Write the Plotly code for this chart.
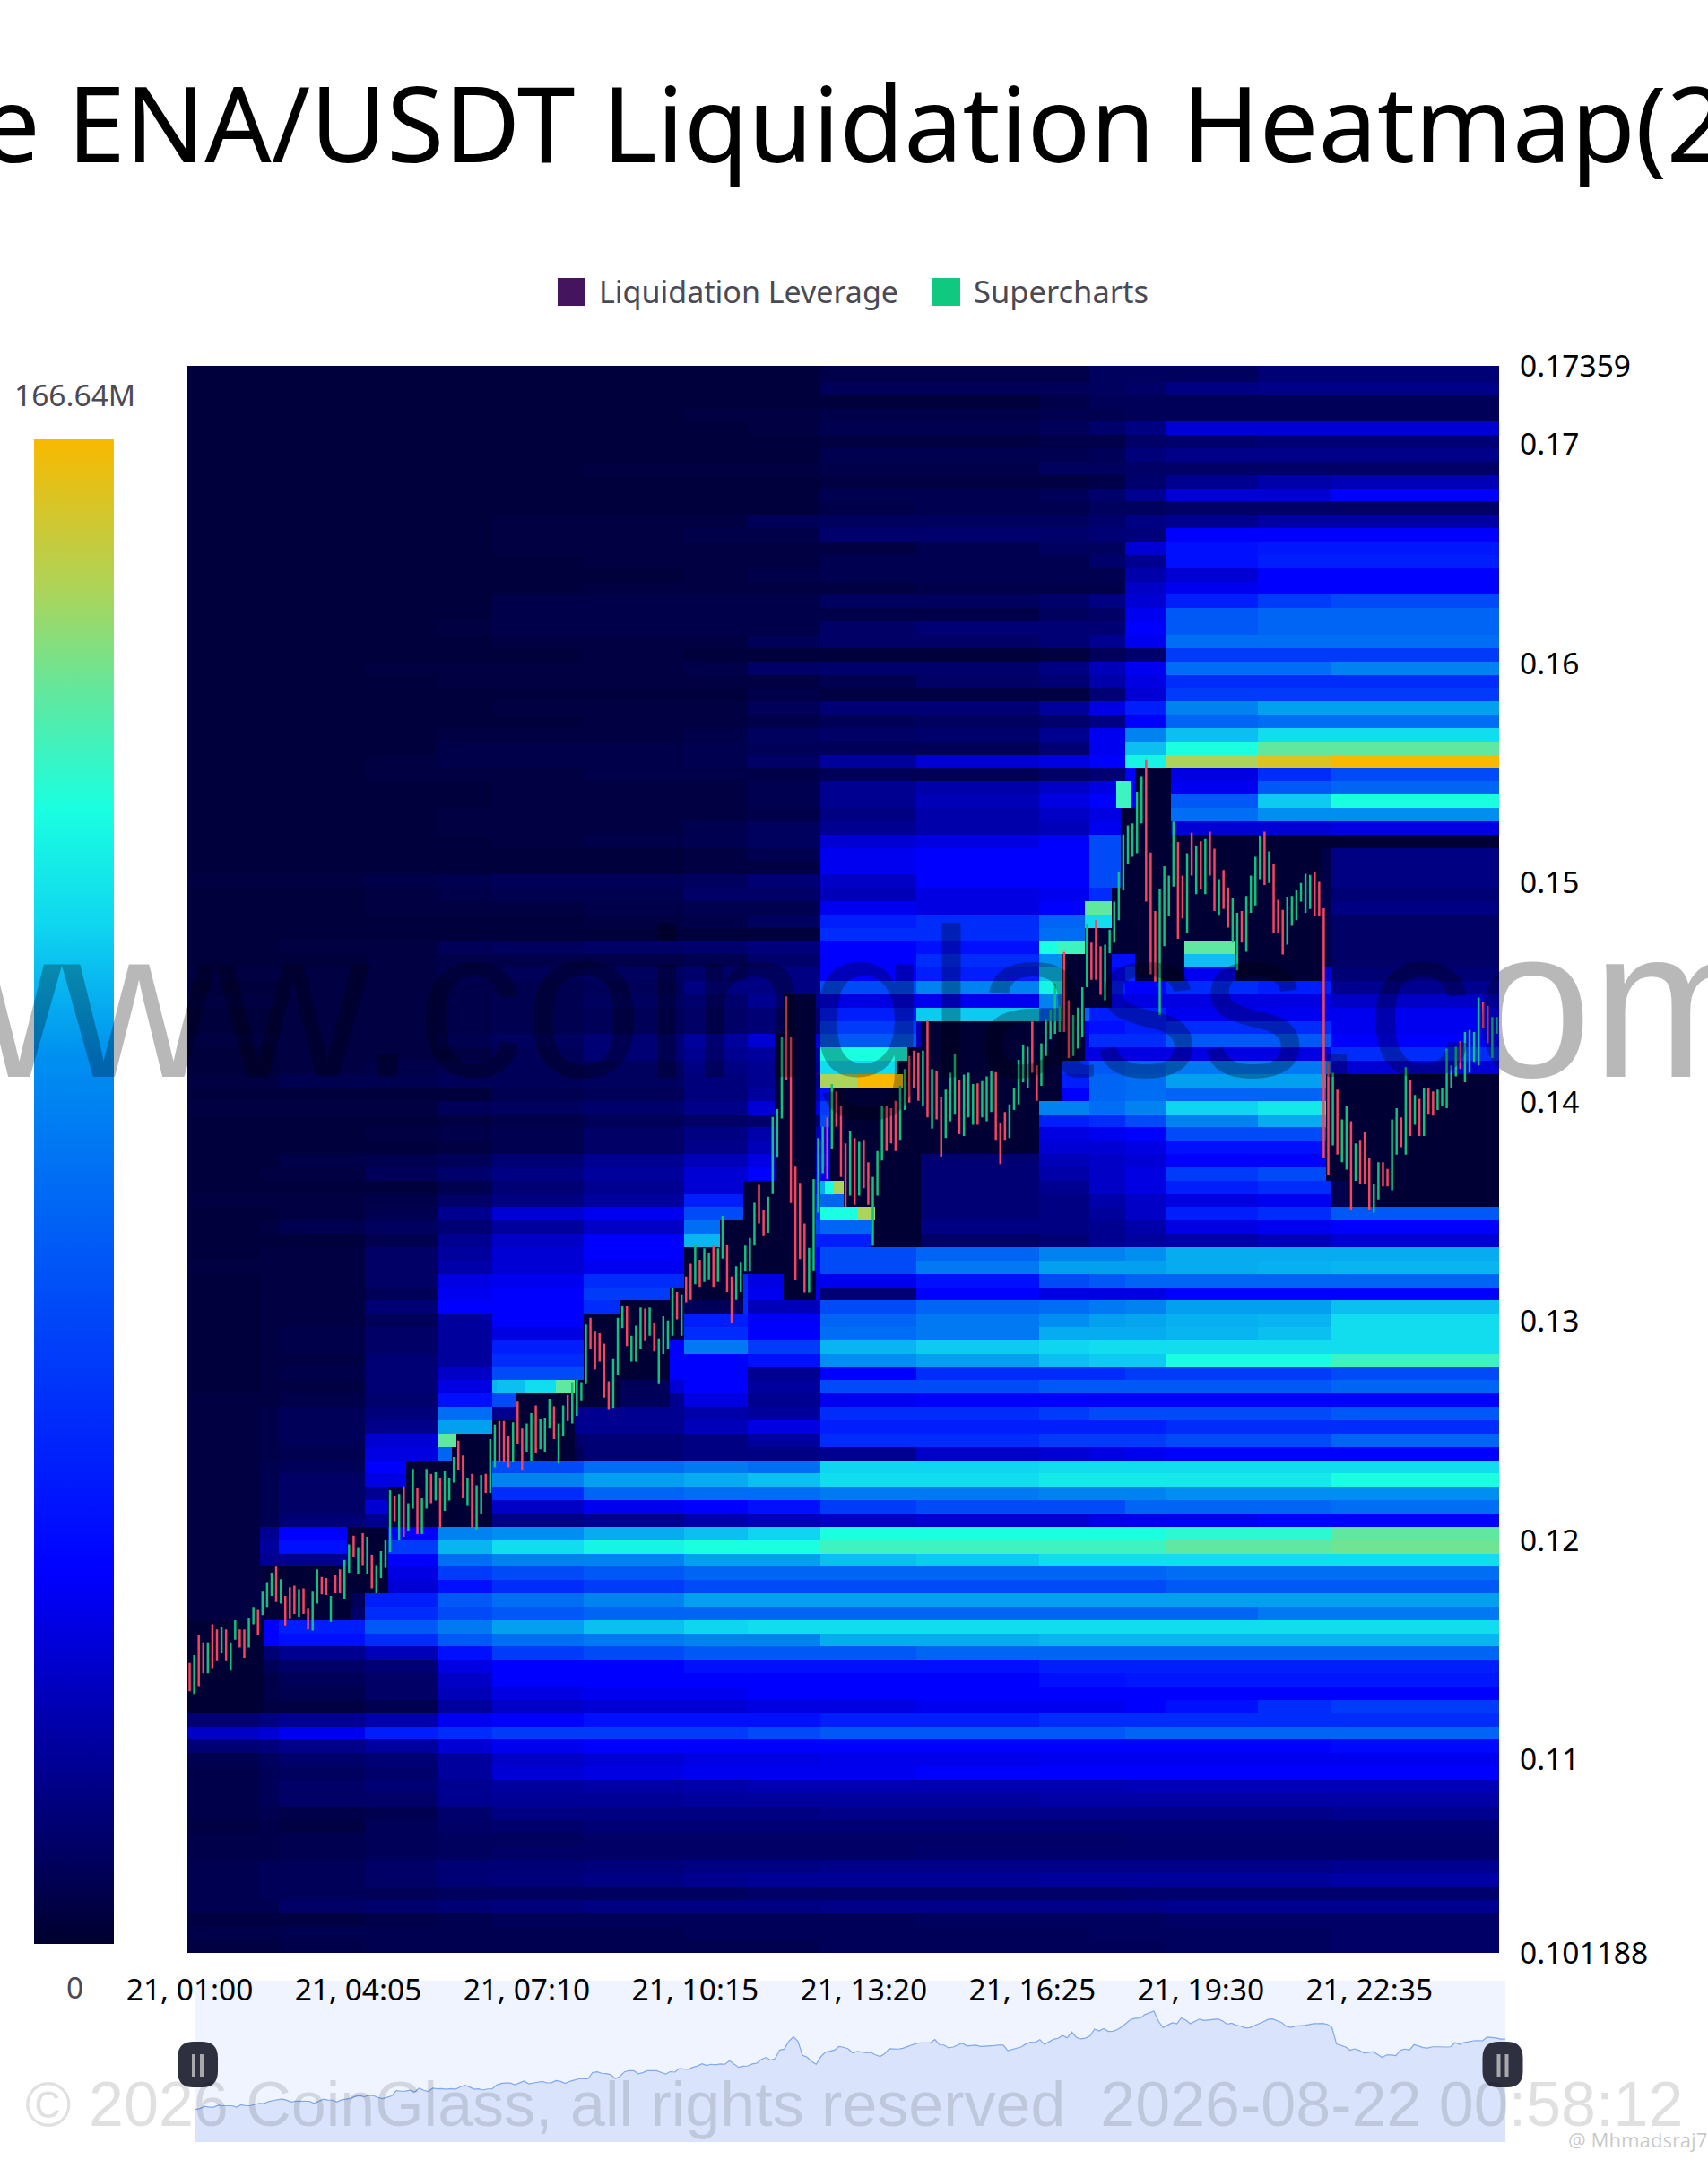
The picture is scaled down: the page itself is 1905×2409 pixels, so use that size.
import numpy as np
import plotly.graph_objects as go

W = 1905
H = 2409

price_min = 0.101188
price_max = 0.17359
max_amount = 166.64  # millions, top of the colour bar

y_tick_vals = [0.101188, 0.11, 0.12, 0.13, 0.14, 0.15, 0.16, 0.17, 0.17359]
y_tick_text = ["0.101188", "0.11", "0.12", "0.13", "0.14", "0.15", "0.16", "0.17", "0.17359"]
x_tick_vals = [0, 37, 74, 111, 148, 185, 222, 259]
x_tick_text = ["21, 01:00", "21, 04:05", "21, 07:10", "21, 10:15", "21, 13:20", "21, 16:25", "21, 19:30", "21, 22:35"]

# heat levels, one row per price step, top to bottom,
# one value per stretch of candles between col_edges
col_edges = [0, 16, 20, 39, 55, 67, 87, 109, 123, 139, 160, 187, 198, 206, 215, 235, 251, 288]
cell_levels = [
    [2,2,2,2,2,2,2,2,2,4,4,4,7,7,7,10,10],
    [2,2,2,2,2,2,2,2,2,6,6,6,7,8,12,13,13],
    [2,2,2,2,2,2,2,2,2,2,2,4,6,6,6,6,6],
    [2,2,2,2,2,2,2,3,3,4,4,5,5,6,6,6,6],
    [2,2,2,2,2,2,2,2,3,5,5,6,9,12,24,24,24],
    [2,2,2,2,2,2,2,2,2,3,3,4,4,8,9,10,10],
    [2,2,2,2,2,2,2,2,2,5,5,5,6,11,13,13,13],
    [2,2,2,2,2,2,3,3,3,4,4,7,7,8,8,8,8],
    [2,2,2,2,2,2,2,2,2,3,3,3,4,9,14,18,20],
    [2,2,2,2,2,2,2,2,2,5,5,6,9,14,24,24,30],
    [2,2,2,2,2,2,2,2,2,4,5,5,7,7,8,8,8],
    [2,2,2,2,2,3,3,3,6,7,7,7,9,12,14,17,17],
    [2,2,2,2,2,3,3,4,4,9,9,9,10,11,30,30,30],
    [2,2,2,2,2,3,3,3,3,3,5,7,7,24,32,33,33],
    [2,2,2,2,2,2,3,3,3,5,5,5,9,14,32,34,34],
    [2,2,2,2,2,2,2,3,4,5,5,5,5,18,24,30,30],
    [2,2,2,2,2,2,3,3,3,3,4,4,4,22,28,30,30],
    [2,2,2,2,2,4,4,4,4,7,7,9,12,24,34,38,40],
    [2,2,2,2,2,4,4,4,4,4,4,7,8,28,42,44,44],
    [2,2,2,2,3,4,4,4,4,8,10,10,10,30,42,44,44],
    [2,2,2,2,2,3,3,3,6,8,8,10,14,28,46,46,46],
    [2,2,2,2,2,2,3,2,2,2,2,3,6,9,38,38,38],
    [2,2,2,3,3,3,3,4,8,9,9,12,20,28,46,46,50],
    [2,2,2,2,3,3,3,3,3,5,8,10,18,26,36,36,36],
    [2,2,2,2,2,2,2,2,4,3,3,3,10,24,38,38,38],
    [2,2,2,2,2,3,3,3,6,10,10,16,26,34,50,54,54],
    [2,2,2,2,2,2,3,3,4,6,7,9,12,30,44,46,46],
    [2,2,2,2,3,3,3,4,7,8,9,14,28,50,60,66,66],
    [2,2,2,2,4,4,4,5,6,6,6,10,28,60,72,80,80],
    [2,2,2,3,4,4,4,5,8,16,24,26,30,70,90,96,100],
    [2,2,2,3,3,3,4,4,4,6,6,8,10,30,26,36,40],
    [2,2,2,2,2,3,3,3,5,14,18,22,26,30,28,42,44],
    [2,2,2,2,2,3,3,3,5,14,20,26,30,30,42,62,72],
    [2,2,2,2,3,3,3,3,4,12,18,22,26,30,46,52,52],
    [2,2,2,2,3,3,3,5,7,14,18,20,28,8,24,24,26],
    [2,2,2,2,2,3,4,5,7,24,26,30,40,34,3,3,4],
    [2,2,2,2,2,2,2,3,5,28,30,30,40,40,4,4,12],
    [2,2,2,2,2,2,2,3,3,28,30,30,40,40,4,4,12],
    [3,3,3,4,5,6,6,7,10,22,30,30,40,30,4,4,12],
    [2,2,2,3,4,5,5,8,8,20,26,28,36,30,4,4,10],
    [2,2,2,3,3,3,4,5,5,28,26,30,44,44,4,4,12],
    [2,2,2,2,2,2,3,4,7,34,36,44,52,46,4,4,8],
    [2,2,2,2,2,2,2,2,2,36,36,46,50,50,4,4,8],
    [2,2,3,3,6,7,8,9,11,30,32,72,30,30,80,4,8],
    [2,2,2,3,4,4,4,5,9,30,36,52,32,32,60,4,8],
    [3,3,3,3,5,6,7,9,12,30,34,60,30,36,28,24,10],
    [2,2,3,3,4,5,6,12,12,40,50,70,34,30,36,34,14],
    [3,3,3,3,4,5,7,9,14,26,28,50,30,26,26,26,22],
    [2,2,3,3,4,5,6,8,10,34,62,44,34,34,28,28,28],
    [2,2,3,3,4,5,6,8,10,38,20,30,32,34,36,36,28],
    [3,3,3,3,5,7,10,16,24,42,20,26,36,36,42,42,30],
    [2,2,3,3,3,6,10,14,16,72,20,26,26,26,26,26,36],
    [2,2,3,4,5,6,7,12,14,66,20,36,42,44,48,48,24],
    [3,3,5,5,6,6,7,11,14,90,22,34,44,46,54,54,5],
    [2,2,2,2,2,5,6,11,16,32,22,30,44,46,44,44,5],
    [3,3,3,3,6,7,9,13,24,38,26,50,46,50,64,68,5],
    [2,2,2,2,3,4,6,8,9,40,24,34,36,40,50,56,5],
    [2,2,2,3,4,5,8,12,18,28,24,26,28,30,40,40,5],
    [2,2,2,2,3,5,8,13,20,30,24,24,24,26,32,32,5],
    [2,2,4,5,6,10,14,20,26,32,10,20,22,24,30,30,5],
    [2,3,3,6,9,12,16,24,30,30,10,18,22,26,38,40,5],
    [2,2,2,2,5,10,14,24,30,56,10,14,22,26,34,36,5],
    [3,3,3,4,8,12,16,34,36,44,10,12,18,22,26,28,5],
    [2,2,3,5,14,24,28,40,38,72,10,12,16,22,34,36,42],
    [2,3,5,7,10,16,22,46,40,44,12,12,14,18,26,28,30],
    [2,2,2,5,14,22,30,58,34,34,8,10,14,16,18,20,24],
    [2,3,3,8,16,24,30,54,30,40,44,50,50,52,56,56,56],
    [3,3,3,8,18,24,28,36,30,40,48,54,54,54,56,57,58],
    [2,3,3,8,26,28,36,36,26,28,32,40,42,44,44,44,44],
    [2,3,3,6,28,30,38,36,28,10,30,26,26,26,30,30,30],
    [2,3,3,10,30,30,36,36,20,40,44,46,48,50,54,54,60],
    [2,3,3,6,16,30,42,34,30,44,48,52,54,55,57,58,66],
    [2,3,4,8,16,26,30,36,30,46,48,56,56,56,58,60,66],
    [2,3,4,8,16,34,30,48,38,58,62,64,66,66,66,66,66],
    [2,3,3,10,16,36,30,30,32,52,54,60,62,62,72,72,76],
    [2,3,4,10,22,40,30,30,14,30,36,36,36,38,38,38,40],
    [2,3,3,10,26,58,24,30,16,40,40,42,42,42,42,42,44],
    [3,3,4,9,32,40,14,26,14,28,30,30,30,30,30,30,30],
    [3,4,6,11,46,14,14,18,16,36,36,38,40,40,40,40,42],
    [3,4,6,13,54,14,14,20,26,34,34,34,34,34,36,36,36],
    [3,4,6,24,60,8,10,12,16,36,36,38,38,38,40,40,44],
    [3,4,5,26,44,6,10,12,12,14,22,24,26,28,30,30,30],
    [3,5,6,30,3,40,46,48,46,64,64,66,66,66,66,66,66],
    [3,5,8,26,3,50,54,56,60,66,66,68,68,68,68,68,72],
    [3,5,8,14,3,36,44,46,46,48,48,50,50,50,52,52,52],
    [3,5,8,24,3,22,28,30,32,38,40,40,40,44,44,44,46],
    [3,5,10,14,3,12,14,18,20,22,24,24,26,27,28,30,30],
    [3,14,30,30,50,52,56,60,64,72,72,72,72,72,74,74,80],
    [3,16,32,38,58,66,70,72,72,76,76,76,76,76,80,80,82],
    [3,14,14,30,46,50,50,54,54,60,62,66,66,66,66,66,66],
    [3,3,3,26,38,40,42,44,44,44,44,44,44,44,46,46,46],
    [3,3,3,24,32,36,38,40,40,40,40,40,40,40,42,42,42],
    [3,5,6,34,42,46,50,54,54,54,54,54,54,54,54,54,54],
    [3,6,8,36,40,42,44,44,44,44,44,44,44,44,44,48,48],
    [10,30,34,42,48,54,60,64,66,66,66,66,66,66,66,66,66],
    [8,30,32,36,42,46,48,50,50,56,56,58,58,58,58,58,58],
    [6,10,14,20,32,38,40,42,42,42,44,44,44,44,44,44,44],
    [4,6,8,10,26,30,30,32,32,32,32,34,34,34,34,34,34],
    [3,4,6,8,22,30,30,30,30,30,30,32,32,33,33,33,33],
    [3,4,5,8,20,26,28,28,30,30,30,30,30,30,30,30,30],
    [3,3,3,5,16,22,24,24,26,26,28,28,28,30,32,36,38],
    [10,12,14,18,28,30,32,32,32,34,34,36,36,36,36,36,36],
    [22,24,28,34,36,38,38,38,40,42,42,42,42,44,44,44,44],
    [10,11,13,16,24,28,30,30,30,30,30,30,30,30,30,30,31],
    [5,7,9,10,16,22,24,26,26,27,27,28,28,28,28,28,28],
    [4,6,7,9,16,24,26,28,28,28,30,30,30,30,30,30,30],
    [4,6,8,10,14,16,17,18,19,19,19,19,19,20,20,20,20],
    [4,6,8,8,14,15,15,16,16,16,16,17,17,17,17,17,17],
    [4,5,4,5,9,12,12,12,12,13,13,13,13,13,13,13,14],
    [3,4,3,6,8,9,10,10,10,10,10,10,10,10,10,10,10],
    [4,4,5,6,7,7,8,8,8,8,8,8,8,9,9,9,9],
    [4,4,5,6,7,8,8,8,8,8,9,9,9,9,9,9,9],
    [5,6,6,8,10,10,11,12,12,13,13,13,13,13,13,13,14],
    [5,6,6,8,10,11,12,14,15,15,15,16,16,16,16,16,17],
    [5,6,6,6,7,7,7,7,8,8,8,8,8,9,9,9,9],
    [5,5,8,9,10,11,12,12,12,13,13,13,13,13,14,14,14],
    [3,3,3,4,5,6,6,6,6,6,7,7,7,7,8,8,8],
    [4,4,5,5,5,5,5,6,6,6,6,6,7,7,7,7,8],
    [3,3,4,5,5,5,5,5,5,6,6,6,6,6,7,7,8],
]

# levels that differ from their row: first candle, last candle, first row, last row, level
# (the near black pockets are where price has already cleared the liquidations)
patches = [
    (0, 17, 94, 101, 1), (17, 36, 90, 94, 1), (35, 44, 87, 92, 1), (44, 59, 84, 87, 1),
    (48, 59, 82, 84, 1), (58, 67, 80, 87, 1), (67, 72, 79, 82, 1), (72, 85, 77, 82, 1),
    (85, 95, 76, 78, 1), (87, 95, 71, 76, 1), (95, 106, 70, 76, 1), (95, 106, 76, 78, 6),
    (106, 109, 69, 73, 1), (109, 122, 66, 70, 1), (109, 122, 70, 71, 6), (117, 122, 64, 66, 1),
    (122, 127, 61, 68, 1), (125, 131, 61, 68, 1), (129, 131, 50, 61, 1), (131, 138, 47, 70, 1),
    (141, 144, 54, 61, 1), (144, 150, 54, 63, 1), (150, 155, 54, 66, 1), (155, 161, 51, 66, 1),
    (161, 187, 49, 59, 1), (187, 192, 49, 55, 1), (192, 197, 44, 52, 1), (197, 203, 42, 48, 1),
    (203, 208, 39, 44, 1), (205, 208, 33, 39, 1), (208, 216, 30, 46, 1), (216, 249, 35, 43, 1),
    (230, 249, 43, 46, 1), (216, 219, 43, 46, 1), (249, 288, 35, 36, 1), (250, 255, 53, 61, 1),
    (255, 288, 53, 63, 1),
    (55, 59, 80, 81, 80), (68, 74, 76, 77, 60), (74, 81, 76, 77, 66), (81, 85, 76, 77, 80),
    (140, 147, 53, 54, 90), (147, 157, 53, 54, 100), (140, 158, 51, 52, 72), (140, 156, 52, 53, 66),
    (140, 147, 63, 64, 72), (147, 151, 63, 64, 90), (140, 142, 61, 62, 72), (142, 144, 61, 62, 90),
    (204, 207, 31, 33, 76), (197, 203, 40, 41, 80), (197, 203, 41, 42, 66), (191, 197, 43, 44, 76),
]

# 5 minute candles, G = up, R = down, ten per chunk
candle_dir = (
    "RGRRGRRGRG" "GRRGGRGGGR" "GRRRGRRGGR" "RGRRGGRGRG" "RGGGGRGRGG" "RGGRGRGGGR"
    "RGRGGRGGRR" "RGRRGGRGGG" "RGGRGGGGRR" "RRRGGGRGGG" "RGRGGGGRGR" "RGRGGRGGRR"
    "GGGGGRRGGG" "GRRRRRGGGG" "RGRRRGRGRR" "GGGRRRGGRR" "RGRGRRGGGR" "GGGRGGGRRR"
    "GGGGGRRGGG" "GGRRGGGGRR" "RGGGGGGGGG" "RRRGGGGRRG" "RGRGRRGRRG" "GRGGGGRGRR"
    "RGGGGGGRRR" "RGRGGRGRRR" "GGRRGGRGRG" "RGRRGGGGGR" "GGGGRRGG"
)
candle_high = [
    .11441,.11477,.11571,.11535,.11535,.11618,.11594,.11606,.11594,.11535,.11636,.11594,
    .11594,.11648,.11697,.11683,.11770,.11810,.11853,.11881,.11824,.11747,.11787,.11794,
    .11777,.11782,.11693,.11770,.11869,.11834,.11829,.11747,.11841,.11869,.11911,.11982,
    .12022,.11970,.12033,.12017,.11935,.11888,.11951,.12005,.12229,.12205,.12212,.12247,
    .12170,.12327,.12240,.12193,.12327,.12304,.12311,.12287,.12315,.12287,.12381,.12456,
    .12388,.12287,.12304,.12252,.12299,.12304,.12463,.12529,.12546,.12546,.12475,.12539,
    .12633,.12511,.12534,.12581,.12616,.12553,.12558,.12647,.12612,.12534,.12616,.12663,
    .12722,.12734,.12722,.12985,.13016,.12957,.12945,.12898,.12727,.12828,.13016,.13070,
    .13068,.12934,.12980,.13063,.13058,.13063,.12992,.12922,.13023,.13004,.13152,.13133,
    .13122,.13204,.13262,.13352,.13281,.13333,.13310,.13345,.13333,.13481,.13349,.13204,
    .13251,.13267,.13345,.13380,.13540,.13622,.13509,.13568,.13932,.13968,.14296,.14482,
    .14295,.13709,.13632,.13446,.13335,.13649,.13836,.13887,.13930,.14083,.14049,.13981,
    .13811,.13870,.13836,.13819,.13828,.13726,.13658,.13777,.13984,.13981,.13972,.14006,
    .14074,.14151,.14210,.14235,.14227,.14235,.14371,.14151,.14142,.14023,.14057,.14134,
    .14218,.14103,.14125,.14134,.14083,.14086,.14096,.14117,.14142,.14137,.13904,.13955,
    .13989,.14066,.14193,.14261,.14252,.14371,.14167,.14269,.14380,.14422,.14541,.14439,
    .14685,.14465,.14397,.14431,.14524,.14813,.14728,.14830,.14711,.14719,.14787,.14915,
    .15051,.15221,.15263,.15272,.15416,.15484,.15560,.15139,.14872,.14974,.15076,.15034,
    .15280,.15187,.15034,.15136,.15229,.15170,.15190,.15200,.15234,.15156,.15017,.15059,
    .14979,.14932,.14864,.14872,.14940,.15034,.15119,.15217,.15234,.15144,.15085,.14923,
    .14877,.14937,.14940,.14966,.15000,.15042,.15037,.15051,.15005,.14884,.14184,.14134,
    .14057,.13921,.13981,.13913,.13811,.13828,.13862,.13746,.13624,.13726,.13726,.13695,
    .13921,.13972,.13930,.14159,.14100,.14032,.14015,.14066,.14066,.14049,.14057,.14066,
    .14244,.14167,.14252,.14278,.14320,.14329,.14320,.14477,.14456,.14439,.14388,.14388,
]
candle_low = [
    .11312,.11300,.11336,.11394,.11394,.11418,.11453,.11488,.11453,.11406,.11547,.11512,
    .11465,.11512,.11618,.11571,.11660,.11697,.11747,.11719,.11712,.11613,.11641,.11665,
    .11653,.11665,.11594,.11589,.11712,.11754,.11751,.11629,.11759,.11759,.11735,.11853,
    .11923,.11848,.11888,.11848,.11782,.11759,.11829,.11876,.11947,.12088,.12005,.12017,
    .12041,.12146,.12029,.12029,.12146,.12170,.12182,.12059,.12135,.12182,.12264,.12323,
    .12193,.12158,.12059,.12050,.12123,.12217,.12217,.12334,.12358,.12358,.12334,.12358,
    .12440,.12318,.12405,.12365,.12398,.12417,.12405,.12511,.12463,.12351,.12475,.12546,
    .12534,.12569,.12640,.12717,.12875,.12781,.12816,.12652,.12600,.12605,.12757,.12969,
    .12887,.12816,.12816,.12875,.12910,.12934,.12863,.12717,.12851,.12875,.12934,.13009,
    .12934,.13086,.13098,.13169,.13157,.13180,.13192,.13157,.13180,.13286,.13133,.12992,
    .13098,.13133,.13227,.13227,.13345,.13446,.13392,.13403,.13580,.13750,.13925,.14100,
    .13539,.13191,.13284,.13131,.13131,.13233,.13496,.13675,.13649,.13785,.13887,.13658,
    .13522,.13573,.13531,.13573,.13607,.13531,.13344,.13573,.13734,.13777,.13811,.13777,
    .13828,.13964,.13998,.14066,.14006,.13981,.13930,.13879,.13921,.13751,.13836,.13913,
    .13947,.13853,.13845,.13930,.13896,.13896,.13930,.13913,.13955,.13828,.13717,.13828,
    .13836,.13964,.13989,.14091,.14066,.14134,.14006,.14074,.14210,.14286,.14312,.14320,
    .14320,.14201,.14210,.14244,.14295,.14524,.14558,.14558,.14490,.14465,.14680,.14728,
    .14830,.14966,.15085,.15119,.15136,.15272,.14915,.14584,.14550,.14397,.14711,.14847,
    .14983,.14745,.14838,.14770,.15034,.14949,.14974,.14949,.15034,.14872,.14850,.14881,
    .14796,.14728,.14601,.14728,.14686,.14864,.14898,.15017,.14991,.15000,.14770,.14770,
    .14674,.14719,.14804,.14830,.14915,.14864,.14881,.14847,.14847,.13743,.13666,.13802,
    .13760,.13726,.13692,.13508,.13641,.13624,.13624,.13508,.13496,.13556,.13615,.13615,
    .13598,.13760,.13794,.13760,.13845,.13896,.13845,.13845,.13947,.13938,.13964,.13981,
    .13972,.14066,.14117,.14151,.14091,.14134,.14184,.14167,.14337,.14269,.14201,.14312,
]

# colour bar stops: position on the bar, colour
colour_stops = [
    [0.0, "#00002e"], [0.245, "#0000ff"], [0.42, "#0048f8"], [0.59, "#0090f0"], [0.68, "#10d8f0"],
    [0.755, "#1affe0"], [0.83, "#60e8a0"], [0.90, "#acd45a"], [1.0, "#f9b900"],
]
# my reading scale for the cells against the position on the bar
level_points = [0, 30, 42, 54, 66, 72, 80, 90, 100]
bar_points = [0, 0.245, 0.46, 0.61, 0.69, 0.755, 0.83, 0.90, 1.0]


def px_x(x):
    return x / W


def px_y(y):
    return 1 - y / H


candle_x = list(range(288))

row_step = (price_max - price_min) / 119.2
y_edges = [price_min + k * row_step for k in range(119)] + [price_max]

grid = np.zeros((119, 288))
for r, row in enumerate(cell_levels):
    for c, level in enumerate(row):
        grid[r, col_edges[c]:col_edges[c + 1]] = level
for start, end, r0, r1, level in patches:
    grid[r0:r1, start:end] = level
z = np.interp(grid, level_points, bar_points)[::-1] * max_amount

candle_open = [lo if d == "G" else hi for d, hi, lo in zip(candle_dir, candle_high, candle_low)]
candle_close = [hi if d == "G" else lo for d, hi, lo in zip(candle_dir, candle_high, candle_low)]

fig = go.Figure()

fig.add_trace(go.Heatmap(
    x=candle_x, y=y_edges, z=z, zmin=0, zmax=max_amount, colorscale=colour_stops,
    hoverinfo="skip", showlegend=False,
    colorbar=dict(
        x=px_x(38), xanchor="left", xpad=0, ypad=0,
        y=px_y(1329), yanchor="middle",
        thickness=89, thicknessmode="pixels", len=1678, lenmode="pixels",
        outlinewidth=0, showticklabels=False, ticks="",
    ),
))
fig.add_trace(go.Candlestick(
    x=candle_x, open=candle_open, high=candle_high, low=candle_low, close=candle_close,
    increasing=dict(line=dict(color="#10c27c", width=0), fillcolor="#10c27c"),
    decreasing=dict(line=dict(color="#f4465e", width=0), fillcolor="#f4465e"),
    whiskerwidth=0, showlegend=False, hoverinfo="skip",
))

# overview strip under the chart
fig.add_trace(go.Scatter(
    x=candle_x, y=candle_high, xaxis="x2", yaxis="y2", mode="lines",
    line=dict(color="#7fa8ee", width=1.2), fill="tozeroy", fillcolor="#d9e3fb",
    showlegend=False, hoverinfo="skip",
))


def pill(cx):
    x0, x1, y0, y1, rad = cx - 22.5, cx + 22.5, 2277, 2328, 18
    pts = (
        f"M {px_x(x0 + rad)} {px_y(y0)} L {px_x(x1 - rad)} {px_y(y0)} "
        f"Q {px_x(x1)} {px_y(y0)} {px_x(x1)} {px_y(y0 + rad)} L {px_x(x1)} {px_y(y1 - rad)} "
        f"Q {px_x(x1)} {px_y(y1)} {px_x(x1 - rad)} {px_y(y1)} L {px_x(x0 + rad)} {px_y(y1)} "
        f"Q {px_x(x0)} {px_y(y1)} {px_x(x0)} {px_y(y1 - rad)} L {px_x(x0)} {px_y(y0 + rad)} "
        f"Q {px_x(x0)} {px_y(y0)} {px_x(x0 + rad)} {px_y(y0)} Z"
    )
    return dict(type="path", xref="paper", yref="paper", path=pts, fillcolor="#2e3040",
                line_width=0, layer="above")


def grip(x):
    return dict(type="rect", xref="paper", yref="paper", x0=px_x(x - 2), x1=px_x(x + 2),
                y0=px_y(2316), y1=px_y(2291), fillcolor="#a8a8ac", line_width=0, layer="above")


def swatch(x0, color):
    return dict(type="rect", xref="paper", yref="paper", x0=px_x(x0), x1=px_x(x0 + 31),
                y0=px_y(341), y1=px_y(310), fillcolor=color, line_width=0)


shapes = [
    dict(type="rect", xref="x2 domain", yref="y2 domain", x0=0, x1=1, y0=0, y1=1,
         fillcolor="#f0f4fe", line_width=0, layer="below"),
    pill(220.5), grip(216), grip(225),
    pill(1676), grip(1671.5), grip(1680.5),
    swatch(622, "#44155e"), swatch(1040, "#10c880"),
]

annotations = [
    dict(text="166.64M", x=px_x(83), y=px_y(440), font=dict(size=33.5, color="#4a4a55")),
    dict(text="0", x=px_x(83), y=px_y(2216), font=dict(size=33.5, color="#4a4a55")),
    dict(text="Liquidation Leverage", x=px_x(835), y=px_y(325), font=dict(size=34, color="#4a4a55")),
    dict(text="Supercharts", x=px_x(1183), y=px_y(325), font=dict(size=34.5, color="#4a4a55")),
    dict(text="www.coinglass.com", x=px_x(935), y=px_y(1118),
         font=dict(family="Liberation Sans", size=238, color="rgba(0,0,0,0.28)")),
    dict(text="\u00a9 2026 CoinGlass, all rights reserved \u00a02026-08-22 00:58:12", x=px_x(952), y=px_y(2347),
         font=dict(family="Liberation Sans", size=70, color="rgba(0,0,0,0.12)")),
    dict(text="@ Mhmadsraj7", x=px_x(1826), y=px_y(2386),
         font=dict(family="Noto Sans", size=22, color="rgba(0,0,0,0.22)")),
]
for a in annotations:
    a.update(xref="paper", yref="paper", showarrow=False, xanchor="center", yanchor="middle")

fig.update_layout(
    width=W, height=H,
    margin=dict(l=0, r=0, t=0, b=0, autoexpand=False),
    paper_bgcolor="white", plot_bgcolor="white",
    font=dict(family="Noto Sans"),
    title=dict(
        text="Binance ENA/USDT Liquidation Heatmap(24 hour)",
        x=0.506, xanchor="center", xref="paper",
        y=px_y(140), yanchor="middle", yref="container",
        font=dict(family="Noto Sans", size=116.5, color="black"),
    ),
    showlegend=False,
    xaxis=dict(
        domain=[px_x(209), px_x(1672)], range=[-0.5, 287.5], anchor="y",
        tickvals=x_tick_vals, ticktext=x_tick_text, ticks="", showgrid=False, zeroline=False,
        tickfont=dict(size=33.5, color="black"), ticklabelstandoff=18,
        rangeslider=dict(visible=False),
    ),
    yaxis=dict(
        domain=[px_y(2178), px_y(408)], range=[price_min, price_max], anchor="x", side="right",
        tickvals=y_tick_vals, ticktext=y_tick_text, ticks="", showgrid=False, zeroline=False,
        tickfont=dict(size=33.5, color="black"), ticklabelstandoff=22,
    ),
    xaxis2=dict(domain=[px_x(218), px_x(1679)], range=[0, 287], anchor="y2", visible=False),
    yaxis2=dict(domain=[px_y(2389), px_y(2209)], range=[0.1007, 0.1684], anchor="x2", visible=False),
    shapes=shapes,
    annotations=annotations,
)

fig.write_html("out.html", config={"displayModeBar": False},
               post_script="document.body.style.margin='0';")
